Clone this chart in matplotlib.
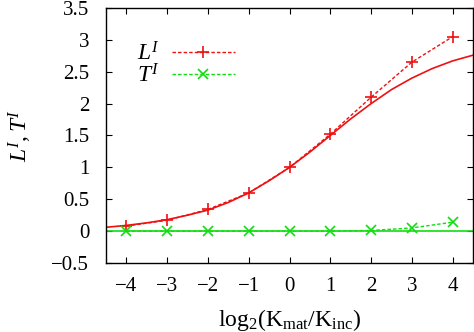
import matplotlib
matplotlib.use("Agg")
import matplotlib.pyplot as plt

# Data
x_pts = [-4, -3, -2, -1, 0, 1, 2, 3, 4]
L_pts = [0.08, 0.17, 0.34, 0.60, 1.00, 1.52, 2.10, 2.65, 3.05]
T_pts = [0.0, 0.0, 0.0, 0.0, 0.0, 0.0, 0.01, 0.05, 0.14]

x_curve = [-4.5, -4, -3.5, -3, -2.5, -2, -1.5, -1, -0.5, 0,
           0.5, 1, 1.5, 2, 2.5, 3, 3.5, 4, 4.5]
L_curve = [0.06, 0.09, 0.13, 0.18, 0.25, 0.33, 0.45, 0.60, 0.79, 1.00,
           1.24, 1.50, 1.76, 2.00, 2.22, 2.40, 2.55, 2.67, 2.76]
T_curve = [0.0] * len(x_curve)

x_ticks = [-4, -3, -2, -1, 0, 1, 2, 3, 4]
y_ticks = [-0.5, 0, 0.5, 1, 1.5, 2, 2.5, 3, 3.5]
y_ticklabels = ["\u22120.5", "0", "0.5", "1", "1.5", "2", "2.5", "3", "3.5"]
x_ticklabels = ["\u22124", "\u22123", "\u22122", "\u22121", "0", "1", "2", "3", "4"]

plt.rcParams["font.family"] = ["Liberation Serif", "DejaVu Serif"]
plt.rcParams["mathtext.fontset"] = "custom"
plt.rcParams["mathtext.rm"] = "Liberation Serif"
plt.rcParams["mathtext.it"] = "Liberation Serif:italic"
plt.rcParams["font.size"] = 15

red = "#ee1111"
green = "#11dd11"

fig = plt.figure(figsize=(4.74, 3.32), dpi=100)
ax = fig.add_axes([0.2236, 0.2078, 0.7744, 0.7682])

# model curves
ax.plot(x_curve, L_curve, "-", color=red, linewidth=1.2)
ax.plot(x_curve, T_curve, "-", color=green, linewidth=1.2)

# measured points
ax.plot(x_pts, L_pts, linestyle=(0, (2.5, 1.5)), color=red, linewidth=1.0,
        marker="+", markersize=8, markeredgewidth=1.2, label="$L^I$")
ax.plot(x_pts, T_pts, linestyle=(0, (2.5, 1.5)), color=green, linewidth=1.0,
        marker="x", markersize=7, markeredgewidth=1.2, label="$T^I$")

ax.set_xlim(-4.5, 4.5)
ax.set_ylim(-0.5, 3.5)
ax.set_xticks(x_ticks)
ax.set_xticklabels(x_ticklabels)
ax.set_yticks(y_ticks)
ax.set_yticklabels(y_ticklabels)
ax.tick_params(direction="in", top=True, right=True, length=4, width=0.8,
               labelsize=15)
ax.tick_params(axis="x", pad=10)
ax.tick_params(axis="y", pad=12)
for s in ax.spines.values():
    s.set_linewidth(1.0)

ax.set_xlabel(r"$\mathrm{log_2(K_{mat}/K_{inc})}$", fontsize=17)
ax.xaxis.label.set_va("center")
ax.xaxis.set_label_coords(0.5, -0.224)
ax.set_ylabel("$L^I, T^I$", fontsize=17)
ax.yaxis.label.set_va("center")
ax.yaxis.set_label_coords(-0.234, 0.5)

ax.legend(loc="center", bbox_to_anchor=(0.218, 0.778), frameon=False,
          markerfirst=False, numpoints=1, handlelength=2.7, handletextpad=0.5,
          labelspacing=-0.05, fontsize=17, borderaxespad=0, borderpad=0)

fig.savefig("out.png", dpi=100)
